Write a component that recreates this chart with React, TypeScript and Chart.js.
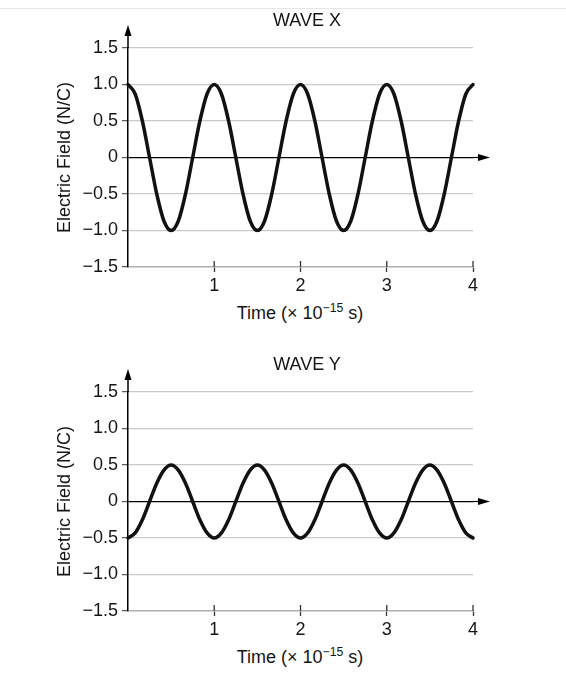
import { useEffect, useRef } from "react";
import { Chart, registerables, Plugin } from "chart.js";

Chart.register(...registerables);

// sample times (× 10^-15 s), read at twelfth-period steps
const timeSteps = [
    0, 0.0833, 0.1667, 0.25, 0.3333, 0.4167, 0.5, 0.5833, 0.6667, 0.75, 0.8333, 0.9167,
    1, 1.0833, 1.1667, 1.25, 1.3333, 1.4167, 1.5, 1.5833, 1.6667, 1.75, 1.8333, 1.9167,
    2, 2.0833, 2.1667, 2.25, 2.3333, 2.4167, 2.5, 2.5833, 2.6667, 2.75, 2.8333, 2.9167,
    3, 3.0833, 3.1667, 3.25, 3.3333, 3.4167, 3.5, 3.5833, 3.6667, 3.75, 3.8333, 3.9167,
    4,
];

const waveXField = [
    1.0, 0.87, 0.5, 0, -0.5, -0.87, -1.0, -0.87, -0.5, 0, 0.5, 0.87,
    1.0, 0.87, 0.5, 0, -0.5, -0.87, -1.0, -0.87, -0.5, 0, 0.5, 0.87,
    1.0, 0.87, 0.5, 0, -0.5, -0.87, -1.0, -0.87, -0.5, 0, 0.5, 0.87,
    1.0, 0.87, 0.5, 0, -0.5, -0.87, -1.0, -0.87, -0.5, 0, 0.5, 0.87,
    1.0,
];

const waveYField = [
    -0.5, -0.43, -0.25, 0, 0.25, 0.43, 0.5, 0.43, 0.25, 0, -0.25, -0.43,
    -0.5, -0.43, -0.25, 0, 0.25, 0.43, 0.5, 0.43, 0.25, 0, -0.25, -0.43,
    -0.5, -0.43, -0.25, 0, 0.25, 0.43, 0.5, 0.43, 0.25, 0, -0.25, -0.43,
    -0.5, -0.43, -0.25, 0, 0.25, 0.43, 0.5, 0.43, 0.25, 0, -0.25, -0.43,
    -0.5,
];

const xTickValues = [1, 2, 3, 4];
const yMin = -1.5;
const yMax = 1.5;
const yStep = 0.5;

const FONT = "'Liberation Sans', Arial, Helvetica, sans-serif";
const TEXT = "#151515";
const GRID = "#c9c9c9";
const FONT_SIZE = 18;

const fmt = (v: number) => {
    if (v === 0) return "0";
    const s = Math.abs(v).toFixed(1);
    return v < 0 ? "\u2212" + s : s;
};

// arrows on the axes and the upper half of the x tick marks
const axisArrows: Plugin = {
    id: "axisArrows",
    afterDraw(chart) {
        const { ctx, chartArea } = chart;
        const x = chart.scales.x;
        const y = chart.scales.y;
        const ax = x.getPixelForValue(0);
        const ay = y.getPixelForValue(0);
        ctx.save();
        ctx.strokeStyle = "#000";
        ctx.fillStyle = "#000";

        ctx.lineWidth = 1.5;
        ctx.beginPath();
        ctx.moveTo(ax, chartArea.top);
        ctx.lineTo(ax, chartArea.top - 14);
        ctx.stroke();
        ctx.beginPath();
        ctx.moveTo(ax, chartArea.top - 23);
        ctx.lineTo(ax - 3.5, chartArea.top - 12);
        ctx.lineTo(ax + 3.5, chartArea.top - 12);
        ctx.closePath();
        ctx.fill();

        ctx.lineWidth = 1.2;
        ctx.beginPath();
        ctx.moveTo(chartArea.right, ay);
        ctx.lineTo(chartArea.right + 7, ay);
        ctx.stroke();
        ctx.beginPath();
        ctx.moveTo(chartArea.right + 17, ay);
        ctx.lineTo(chartArea.right + 5, ay - 3.5);
        ctx.lineTo(chartArea.right + 5, ay + 3.5);
        ctx.closePath();
        ctx.fill();

        ctx.strokeStyle = "#333";
        ctx.lineWidth = 1.3;
        xTickValues.forEach(v => {
            const px = x.getPixelForValue(v);
            ctx.beginPath();
            ctx.moveTo(px, chartArea.bottom);
            ctx.lineTo(px, chartArea.bottom - 6);
            ctx.stroke();
        });
        ctx.restore();
    },
};

type PanelProps = {
    title: string;
    times: number[];
    values: number[];
    top: number;
};

function WavePanel({ title, times, values, top }: PanelProps) {
    const canvasRef = useRef<HTMLCanvasElement>(null);
    const chartRef = useRef<Chart | null>(null);

    useEffect(() => {
        if (!canvasRef.current) return;
        if (chartRef.current) chartRef.current.destroy();

        chartRef.current = new Chart(canvasRef.current, {
            type: "line",
            data: {
                datasets: [{
                    label: title,
                    data: times.map((t, i) => ({ x: t, y: values[i] })),
                    borderColor: "#111",
                    borderWidth: 3.5,
                    borderCapStyle: "round",
                    pointRadius: 0,
                    cubicInterpolationMode: "monotone",
                    fill: false,
                    clip: false,
                }],
            },
            options: {
                animation: false,
                responsive: true,
                maintainAspectRatio: false,
                layout: { padding: { left: 50, right: 93, top: 48, bottom: 0 } },
                plugins: {
                    legend: { display: false },
                    tooltip: { enabled: false },
                    title: { display: false },
                },
                scales: {
                    x: {
                        type: "linear",
                        min: 0,
                        max: 4,
                        afterFit: (s) => { s.height = 33; },
                        ticks: {
                            stepSize: 1,
                            padding: 3,
                            color: TEXT,
                            font: { family: FONT, size: FONT_SIZE },
                            callback: (v) => (Number(v) === 0 ? "" : String(v)),
                            maxRotation: 0,
                        },
                        grid: {
                            drawOnChartArea: false,
                            drawTicks: true,
                            tickLength: 5,
                            tickColor: (c) => (c.tick && c.tick.value === 0 ? "rgba(0,0,0,0)" : "#333"),
                            tickWidth: 1.3,
                        },
                        border: { color: "#b3b3b3", width: 1.5 },
                    },
                    y: {
                        type: "linear",
                        min: yMin,
                        max: yMax,
                        afterFit: (s) => { s.width = 78; },
                        ticks: {
                            stepSize: yStep,
                            padding: 4,
                            color: TEXT,
                            font: { family: FONT, size: FONT_SIZE },
                            callback: (v) => fmt(Number(v)),
                        },
                        grid: {
                            color: (c) => (c.tick && c.tick.value === 0 ? "#000" : GRID),
                            lineWidth: (c) => (c.tick && c.tick.value === 0 ? 1.2 : 1.3),
                            tickColor: "#555",
                            tickLength: 6,
                            tickWidth: 1.2,
                        },
                        border: { color: "#000", width: 1.5 },
                        title: {
                            display: true,
                            text: "Electric Field (N/C)",
                            color: TEXT,
                            font: { family: FONT, size: FONT_SIZE },
                            padding: { top: 4, bottom: 0 },
                        },
                    },
                },
            },
            plugins: [axisArrows],
        });

        return () => {
            if (chartRef.current) {
                chartRef.current.destroy();
                chartRef.current = null;
            }
        };
    }, [title, times, values]);

    const textStyle = {
        position: "absolute" as const,
        fontFamily: FONT,
        fontSize: FONT_SIZE,
        lineHeight: "20px",
        color: TEXT,
        textAlign: "center" as const,
        whiteSpace: "nowrap" as const,
    };

    return (
        <div style={{ position: "absolute", left: 0, top, width: 566, height: 330 }}>
            <div style={{ position: "absolute", left: 0, top: 0, width: 566, height: 300 }}>
                <canvas ref={canvasRef}></canvas>
            </div>
            <div style={{ ...textStyle, left: 207, width: 200, top: 10 }}>{title}</div>
            <div style={{ ...textStyle, left: 200, width: 200, top: 303 }}>
                Time (× 10<sup style={{ fontSize: "0.68em", lineHeight: 0, verticalAlign: "0.6em" }}>−15</sup> s)
            </div>
        </div>
    );
}

export default function App() {
    return (
        <div style={{ position: "absolute", left: 0, top: 0, width: 566, height: 688, background: "#fff", overflow: "hidden" }}>
            <div style={{ position: "absolute", left: 0, top: 8, width: 566, height: 1, background: "#e6e6e6" }}></div>
            <WavePanel title="WAVE X" times={timeSteps} values={waveXField} top={0} />
            <WavePanel title="WAVE Y" times={timeSteps} values={waveYField} top={344} />
        </div>
    );
}
